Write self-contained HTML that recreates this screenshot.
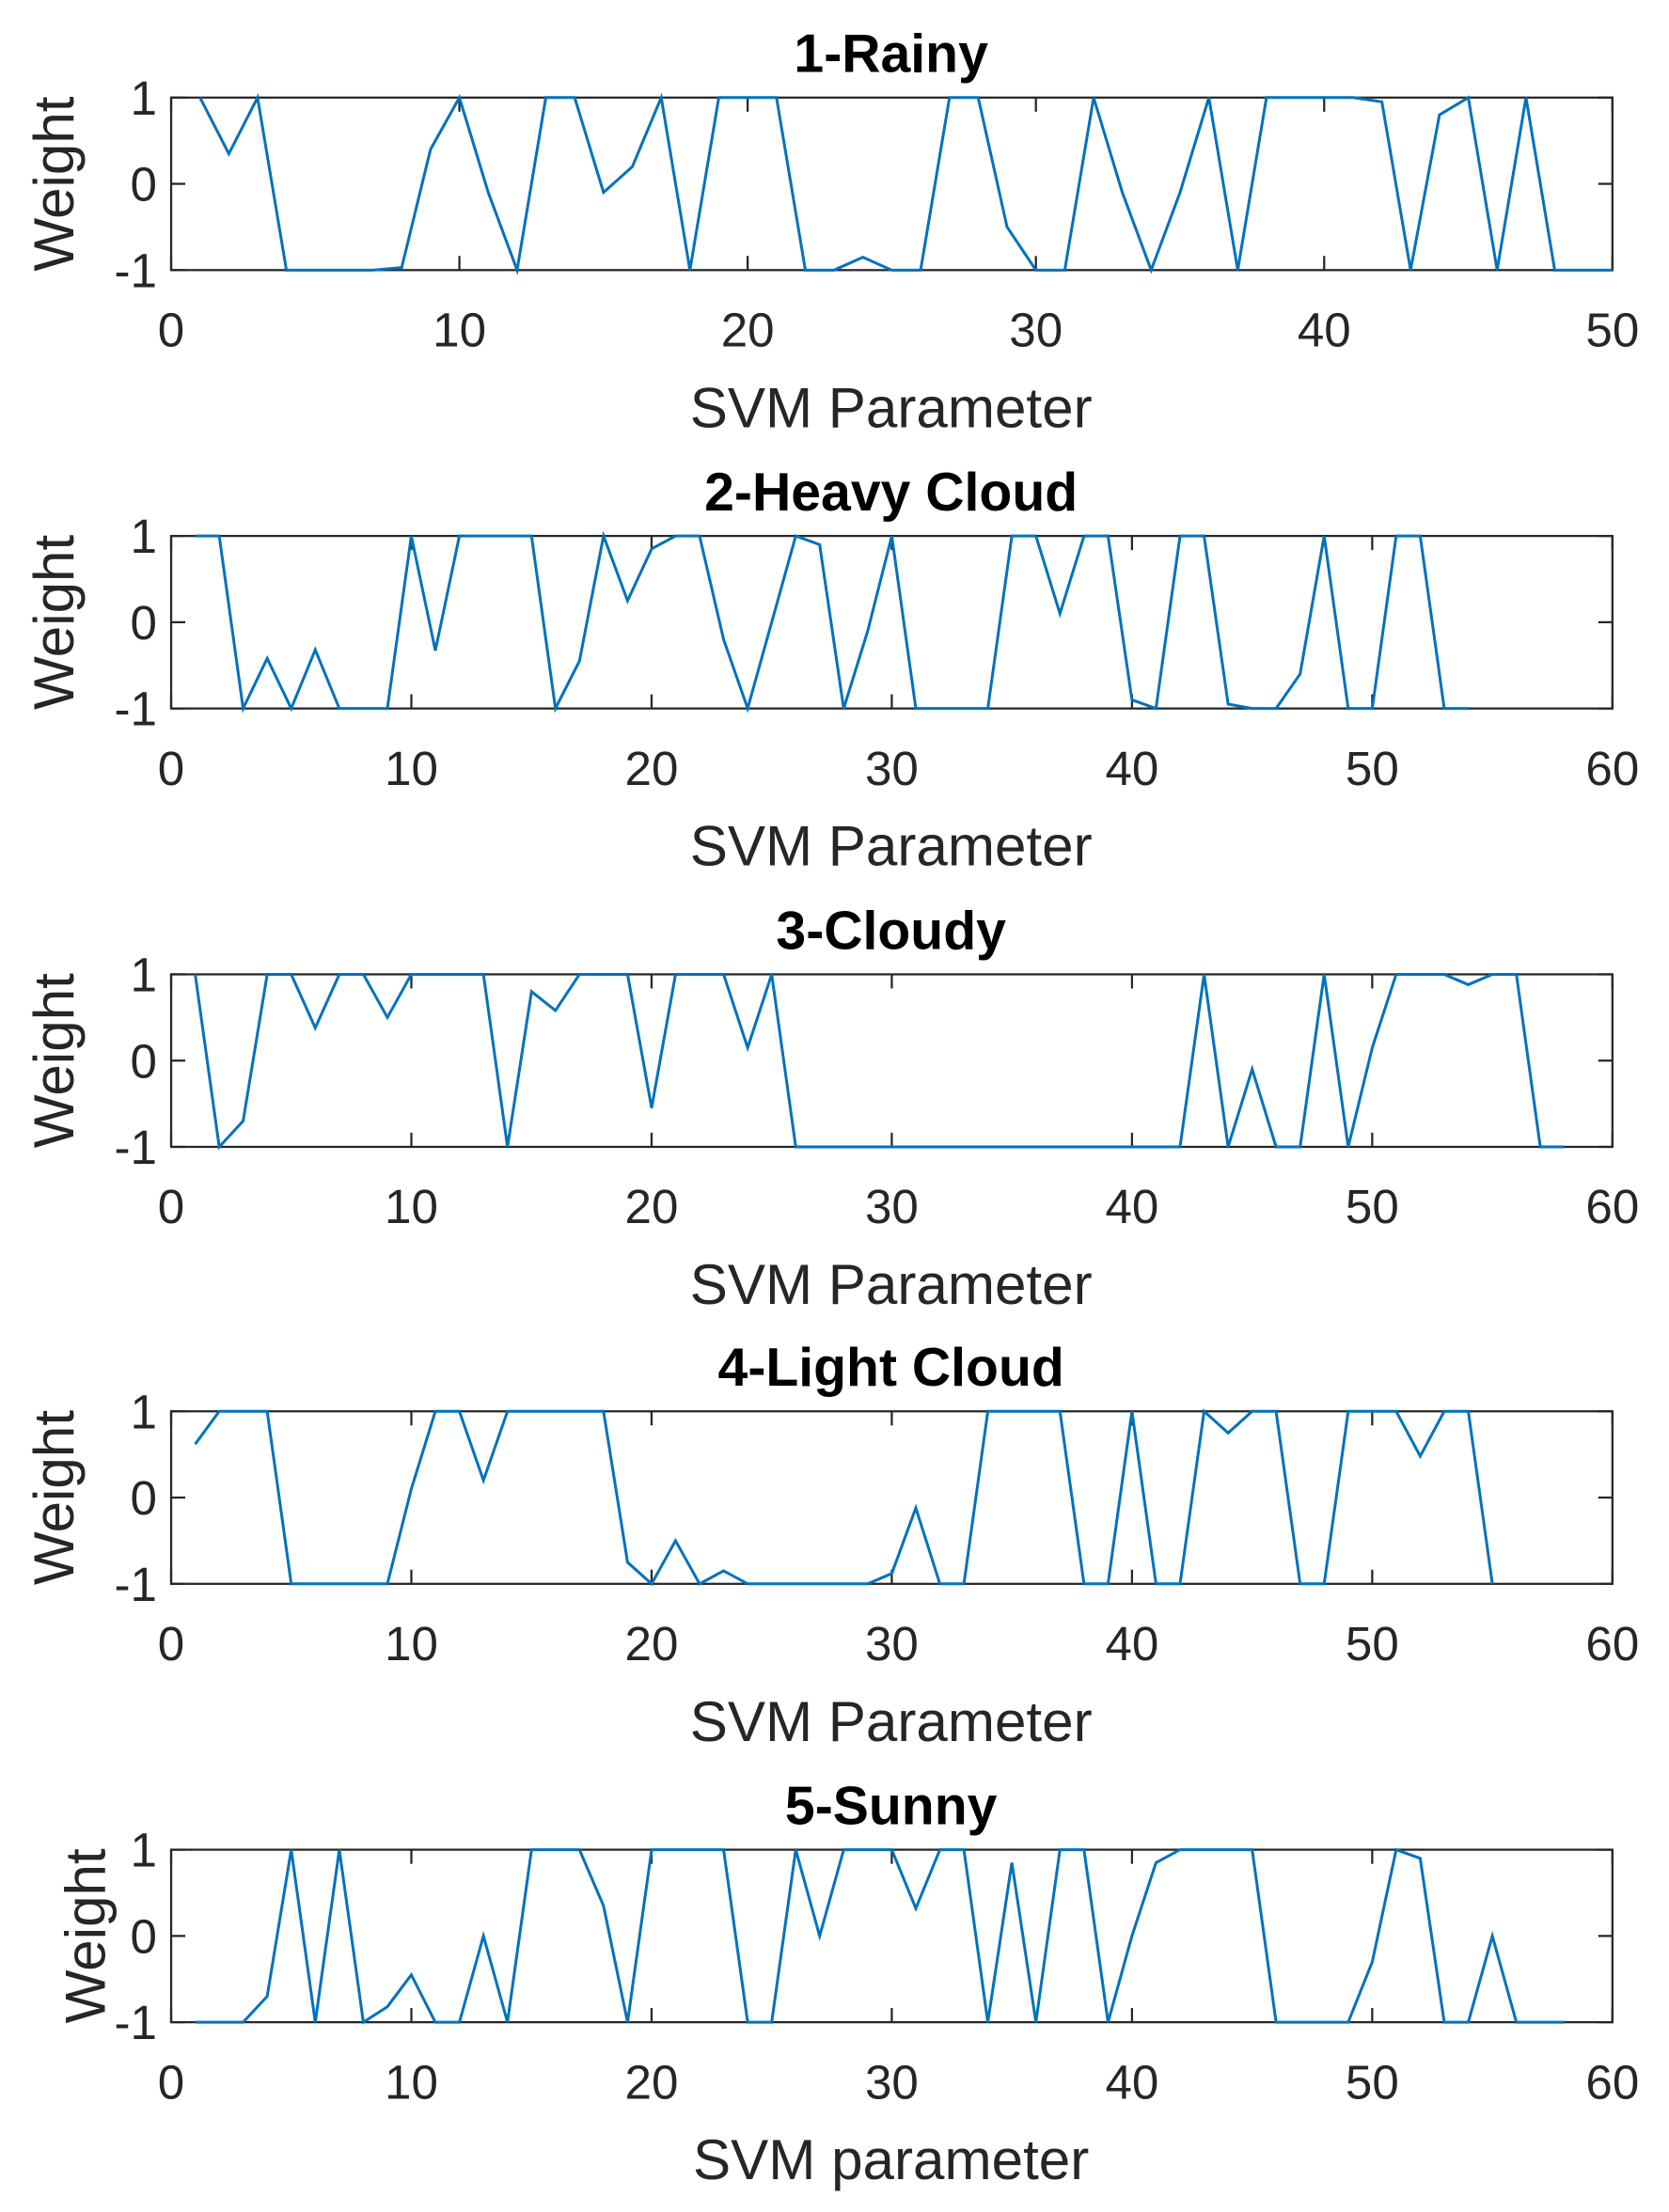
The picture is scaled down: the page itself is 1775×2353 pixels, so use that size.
<!DOCTYPE html>
<html><head><meta charset="utf-8"><style>html,body{margin:0;padding:0;background:#fff}svg{display:block}</style></head>
<body>
<svg id="s" xmlns="http://www.w3.org/2000/svg" width="1775" height="2353" viewBox="0 0 1180 1564.2" preserveAspectRatio="none" font-family="Liberation Sans, Arial, sans-serif"></svg>
<script>
const D=[
{t:"1-Rainy",xm:50,xl:"SVM Parameter",d:[1,0.35,1,-1,-1,-1,-1,-0.97,0.4,1,-0.1,-1,1,1,-0.1,0.2,1,-1,1,1,1,-1,-1,-0.85,-1,-1,1,1,-0.5,-1,-1,1,-0.1,-1,-0.1,1,-1,1,1,1,1,0.95,-1,0.8,1,-1,1,-1,-1,-1]},
{t:"2-Heavy Cloud",xm:60,xl:"SVM Parameter",d:[1,1,-1,-0.42,-1,-0.32,-1,-1,-1,1,-0.33,1,1,1,1,-1,-0.45,1,0.25,0.85,1,1,-0.2,-1,0,1,0.9,-1,-0.1,1,-1,-1,-1,-1,1,1,0.1,1,1,-0.9,-1,1,1,-0.95,-1,-1,-0.6,1,-1,-1,1,1,-1,-1]},
{t:"3-Cloudy",xm:60,xl:"SVM Parameter",d:[1,-1,-0.7,1,1,0.38,1,1,0.5,1,1,1,1,-1,0.8,0.58,1,1,1,-0.55,1,1,1,0.15,1,-1,-1,-1,-1,-1,-1,-1,-1,-1,-1,-1,-1,-1,-1,-1,-1,-1,1,-1,-0.1,-1,-1,1,-1,0.15,1,1,1,0.88,1,1,-1,-1]},
{t:"4-Light Cloud",xm:60,xl:"SVM Parameter",d:[0.62,1,1,1,-1,-1,-1,-1,-1,0.1,1,1,0.2,1,1,1,1,1,-0.75,-1,-0.5,-1,-0.85,-1,-1,-1,-1,-1,-1,-0.88,-0.12,-1,-1,1,1,1,1,-1,-1,1,-1,-1,1,0.75,1,1,-1,-1,1,1,1,0.48,1,1,-1]},
{t:"5-Sunny",xm:60,xl:"SVM parameter",d:[-1,-1,-1,-0.7,1,-1,1,-1,-0.82,-0.45,-1,-1,0,-1,1,1,1,0.35,-1,1,1,1,1,-1,-1,1,0,1,1,1,0.32,1,1,-1,0.85,-1,1,1,-1,0,0.85,1,1,1,1,-1,-1,-1,-1,-0.3,1,0.9,-1,-1,0,-1,-1,-1]}
];
const tops=[69,379,689,998,1308];
const L=121,R=1140,H=122;
let h="";
D.forEach((p,i)=>{
 const T=tops[i],B=T+H;
 const X=v=>L+(R-L)*v/p.xm, Y=v=>T+(1-v)/2*H;
 h+=`<text x="630" y="${T-18}" font-size="38" font-weight="bold" text-anchor="middle" fill="#000">${p.t}</text>`;
 for(let v=0;v<=p.xm;v+=10){const x=X(v);
  h+=`<line x1="${x}" y1="${B}" x2="${x}" y2="${B-10}" stroke="#262626" stroke-width="1.5"/><line x1="${x}" y1="${T}" x2="${x}" y2="${T+10}" stroke="#262626" stroke-width="1.5"/>`;
  h+=`<text x="${x}" y="${B+54}" font-size="34" text-anchor="middle" fill="#262626">${v}</text>`;}
 [-1,0,1].forEach(v=>{const y=Y(v);
  h+=`<line x1="${L}" y1="${y}" x2="${L+10}" y2="${y}" stroke="#262626" stroke-width="1.5"/><line x1="${R}" y1="${y}" x2="${R-10}" y2="${y}" stroke="#262626" stroke-width="1.5"/>`;
  h+=`<text x="${L-10}" y="${y+12}" font-size="34" text-anchor="end" fill="#262626">${v}</text>`;});
 h+=`<rect x="${L}" y="${T}" width="${R-L}" height="${H}" fill="none" stroke="#262626" stroke-width="1.5"/>`;
 let pts=p.d.map((v,k)=>X(k+1).toFixed(1)+","+Y(v).toFixed(1)).join(" ");
 h+=`<polyline points="${pts}" fill="none" stroke="#0072BD" stroke-width="2"/>`;
 h+=`<text x="630" y="${B+111}" font-size="40" text-anchor="middle" fill="#262626">${p.xl}</text>`;
 const lx=i==4?60:38;
 h+=`<text transform="translate(${lx+14},${T+H/2}) rotate(-90)" font-size="40" text-anchor="middle" fill="#262626">Weight</text>`;
});
document.getElementById("s").innerHTML=h;
</script>
</body></html>
